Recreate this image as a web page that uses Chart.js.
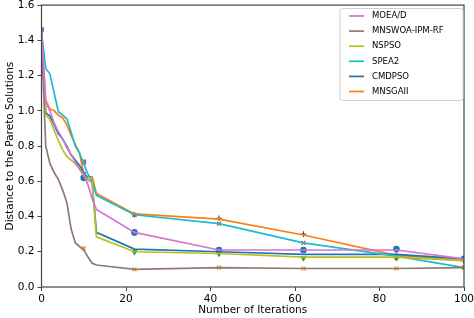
<!DOCTYPE html>
<html>
<head>
<meta charset="utf-8">
<script src="https://cdn.jsdelivr.net/npm/chart.js@4.4.0/dist/chart.umd.min.js"></script>
<style>
  html, body { margin: 0; padding: 0; background: #fff; }
  #contenedor { width: 474px; height: 318px; }
</style>
</head>
<body>
<div id="contenedor"><canvas id="myChart"></canvas></div>
<script>
// Iteraciones (eje x) y valores de cada algoritmo
const iteraciones = [0, 1, 2, 3, 4, 5, 6, 7, 8, 9, 10, 11, 12, 13, 22, 42, 62, 84, 100];
const moead   = [1.45, 1.05, 1.00, 0.93, 0.88, 0.84, 0.79, 0.75, 0.71, 0.67, 0.64, 0.58, 0.50, 0.44, 0.31, 0.21, 0.21, 0.21, 0.16];
const mnswoa  = [1.43, 0.80, 0.70, 0.65, 0.61, 0.55, 0.48, 0.33, 0.25, 0.23, 0.21, 0.17, 0.135, 0.125, 0.10, 0.11, 0.105, 0.105, 0.11];
const nspso   = [1.40, 0.98, 0.95, 0.89, 0.83, 0.78, 0.74, 0.72, 0.70, 0.67, 0.63, 0.61, 0.59, 0.285, 0.20, 0.19, 0.17, 0.17, 0.15];
const spea2   = [1.45, 1.24, 1.21, 1.10, 0.995, 0.975, 0.955, 0.88, 0.80, 0.76, 0.70, 0.64, 0.60, 0.52, 0.41, 0.36, 0.25, 0.175, 0.11];
const cmdpso  = [1.40, 0.99, 0.97, 0.92, 0.87, 0.84, 0.80, 0.75, 0.72, 0.69, 0.65, 0.61, 0.59, 0.31, 0.215, 0.20, 0.185, 0.185, 0.16];
const mnsgaii = [1.45, 1.06, 1.01, 1.00, 0.975, 0.96, 0.92, 0.86, 0.81, 0.76, 0.64, 0.625, 0.625, 0.53, 0.415, 0.385, 0.295, 0.18, 0.15];

// Marcadores sueltos
const iterMarcas     = [0, 10, 22, 42, 62, 84, 100];
const marcaCirculo   = [null, 0.62, 0.31, 0.21, 0.21, 0.215, 0.16];
const marcaCruz      = [null, 0.22, 0.10, 0.11, 0.105, 0.105, 0.11];
const marcaTriangulo = [null, 0.62, 0.20, 0.19, 0.165, 0.165, 0.15];
const marcaRoja      = [null, 0.64, 0.41, 0.36, 0.25, 0.17, 0.11];
const marcaMorada    = [1.46, 0.71, null, null, null, null, null];
const marcaMarron    = [null, null, 0.41, 0.39, 0.30, 0.18, 0.15];

const fuente = '"DejaVu Sans", sans-serif';

function puntos(xs, ys) {
    return xs.map((x, i) => ({ x: x, y: ys[i] })).filter(p => p.y !== null);
}

function serie(label, valores, color) {
    return {
        label: label,
        data: puntos(iteraciones, valores),
        borderColor: color,
        backgroundColor: color,
        borderWidth: 1.7,
        pointRadius: 0,
        tension: 0,
        fill: false,
        leyenda: true
    };
}

function marcas(valores, color, estilo, rot) {
    return {
        type: 'scatter',
        data: puntos(iterMarcas, valores),
        borderColor: color,
        backgroundColor: color,
        pointStyle: estilo,
        pointRotation: rot || 0,
        pointRadius: 2.8,
        pointBorderWidth: 1.1,
        showLine: false
    };
}

// Marco completo alrededor del área del gráfico
const marco = {
    id: 'marco',
    afterDraw(chart) {
        const { ctx, chartArea: a } = chart;
        ctx.save();
        ctx.strokeStyle = '#444';
        ctx.lineWidth = 1.2;
        ctx.strokeRect(a.left, a.top, a.right - a.left, a.bottom - a.top);
        ctx.restore();
    }
};

// Leyenda dentro del área, arriba a la derecha
const leyenda = {
    id: 'leyenda',
    afterDraw(chart) {
        const ctx = chart.ctx;
        const items = chart.data.datasets.filter(d => d.leyenda);
        const x0 = 340, y0 = 8.5, w = 123, h = 92;
        ctx.save();
        ctx.fillStyle = 'rgba(255,255,255,0.85)';
        ctx.strokeStyle = '#d0d0d0';
        ctx.lineWidth = 1;
        ctx.beginPath();
        ctx.roundRect(x0, y0, w, h, 2.5);
        ctx.fill();
        ctx.stroke();
        ctx.font = '8.5px ' + fuente;
        ctx.textBaseline = 'middle';
        ctx.fillStyle = '#000';
        items.forEach((d, i) => {
            const y = 16 + i * 15.1;
            ctx.strokeStyle = d.borderColor;
            ctx.lineWidth = 1.7;
            ctx.beginPath();
            ctx.moveTo(349, y);
            ctx.lineTo(364, y);
            ctx.stroke();
            ctx.fillText(d.label, 372, y);
        });
        ctx.restore();
    }
};

const ctx = document.getElementById('myChart').getContext('2d');
const chart = new Chart(ctx, {
    type: 'line',
    data: {
        datasets: [
            serie('MOEA/D', moead, '#d671d6'),
            serie('MNSWOA-IPM-RF', mnswoa, '#917a70'),
            serie('NSPSO', nspso, '#bcbd22'),
            serie('SPEA2', spea2, '#17becf'),
            serie('CMDPSO', cmdpso, '#1f77b4'),
            serie('MNSGAII', mnsgaii, '#ff7f0e'),
            marcas(marcaCirculo, '#1f77b4', 'circle'),
            marcas(marcaCruz, '#ff7f0e', 'crossRot'),
            marcas(marcaTriangulo, '#2ca02c', 'triangle', 180),
            marcas(marcaRoja, '#d62728', 'crossRot'),
            marcas(marcaMorada, '#9467bd', 'rect'),
            marcas(marcaMarron, '#6b3f35', 'cross')
        ]
    },
    options: {
        responsive: true,
        maintainAspectRatio: false,
        animation: false,
        layout: { padding: { top: 5, right: 10, left: 0, bottom: 0 } },
        plugins: {
            legend: { display: false },
            tooltip: { enabled: false }
        },
        scales: {
            x: {
                type: 'linear',
                min: 0,
                max: 100,
                ticks: { stepSize: 20, color: '#000', padding: 2, maxRotation: 0, font: { family: fuente, size: 10.5 } },
                grid: { drawOnChartArea: false, tickLength: 4, color: '#444' },
                border: { display: false },
                title: { display: true, text: 'Number of Iterations', color: '#000', padding: { top: 0, bottom: 1.5 }, font: { family: fuente, size: 10.5 } },
                afterFit: s => { s.height = 31; s.paddingLeft = 0; s.paddingRight = 0; }
            },
            y: {
                min: 0,
                max: 1.6,
                ticks: { stepSize: 0.2, color: '#000', padding: 3, font: { family: fuente, size: 10.5 }, callback: v => v.toFixed(1) },
                grid: { drawOnChartArea: false, tickLength: 4, color: '#444' },
                border: { display: false },
                title: { display: true, text: 'Distance to the Pareto Solutions', color: '#000', padding: { top: 4, bottom: 0 }, font: { family: fuente, size: 10.5 } },
                afterFit: s => { s.width = 41.5; s.paddingTop = 0; s.paddingBottom = 0; }
            }
        }
    },
    plugins: [marco, leyenda]
});
</script>
</body>
</html>
